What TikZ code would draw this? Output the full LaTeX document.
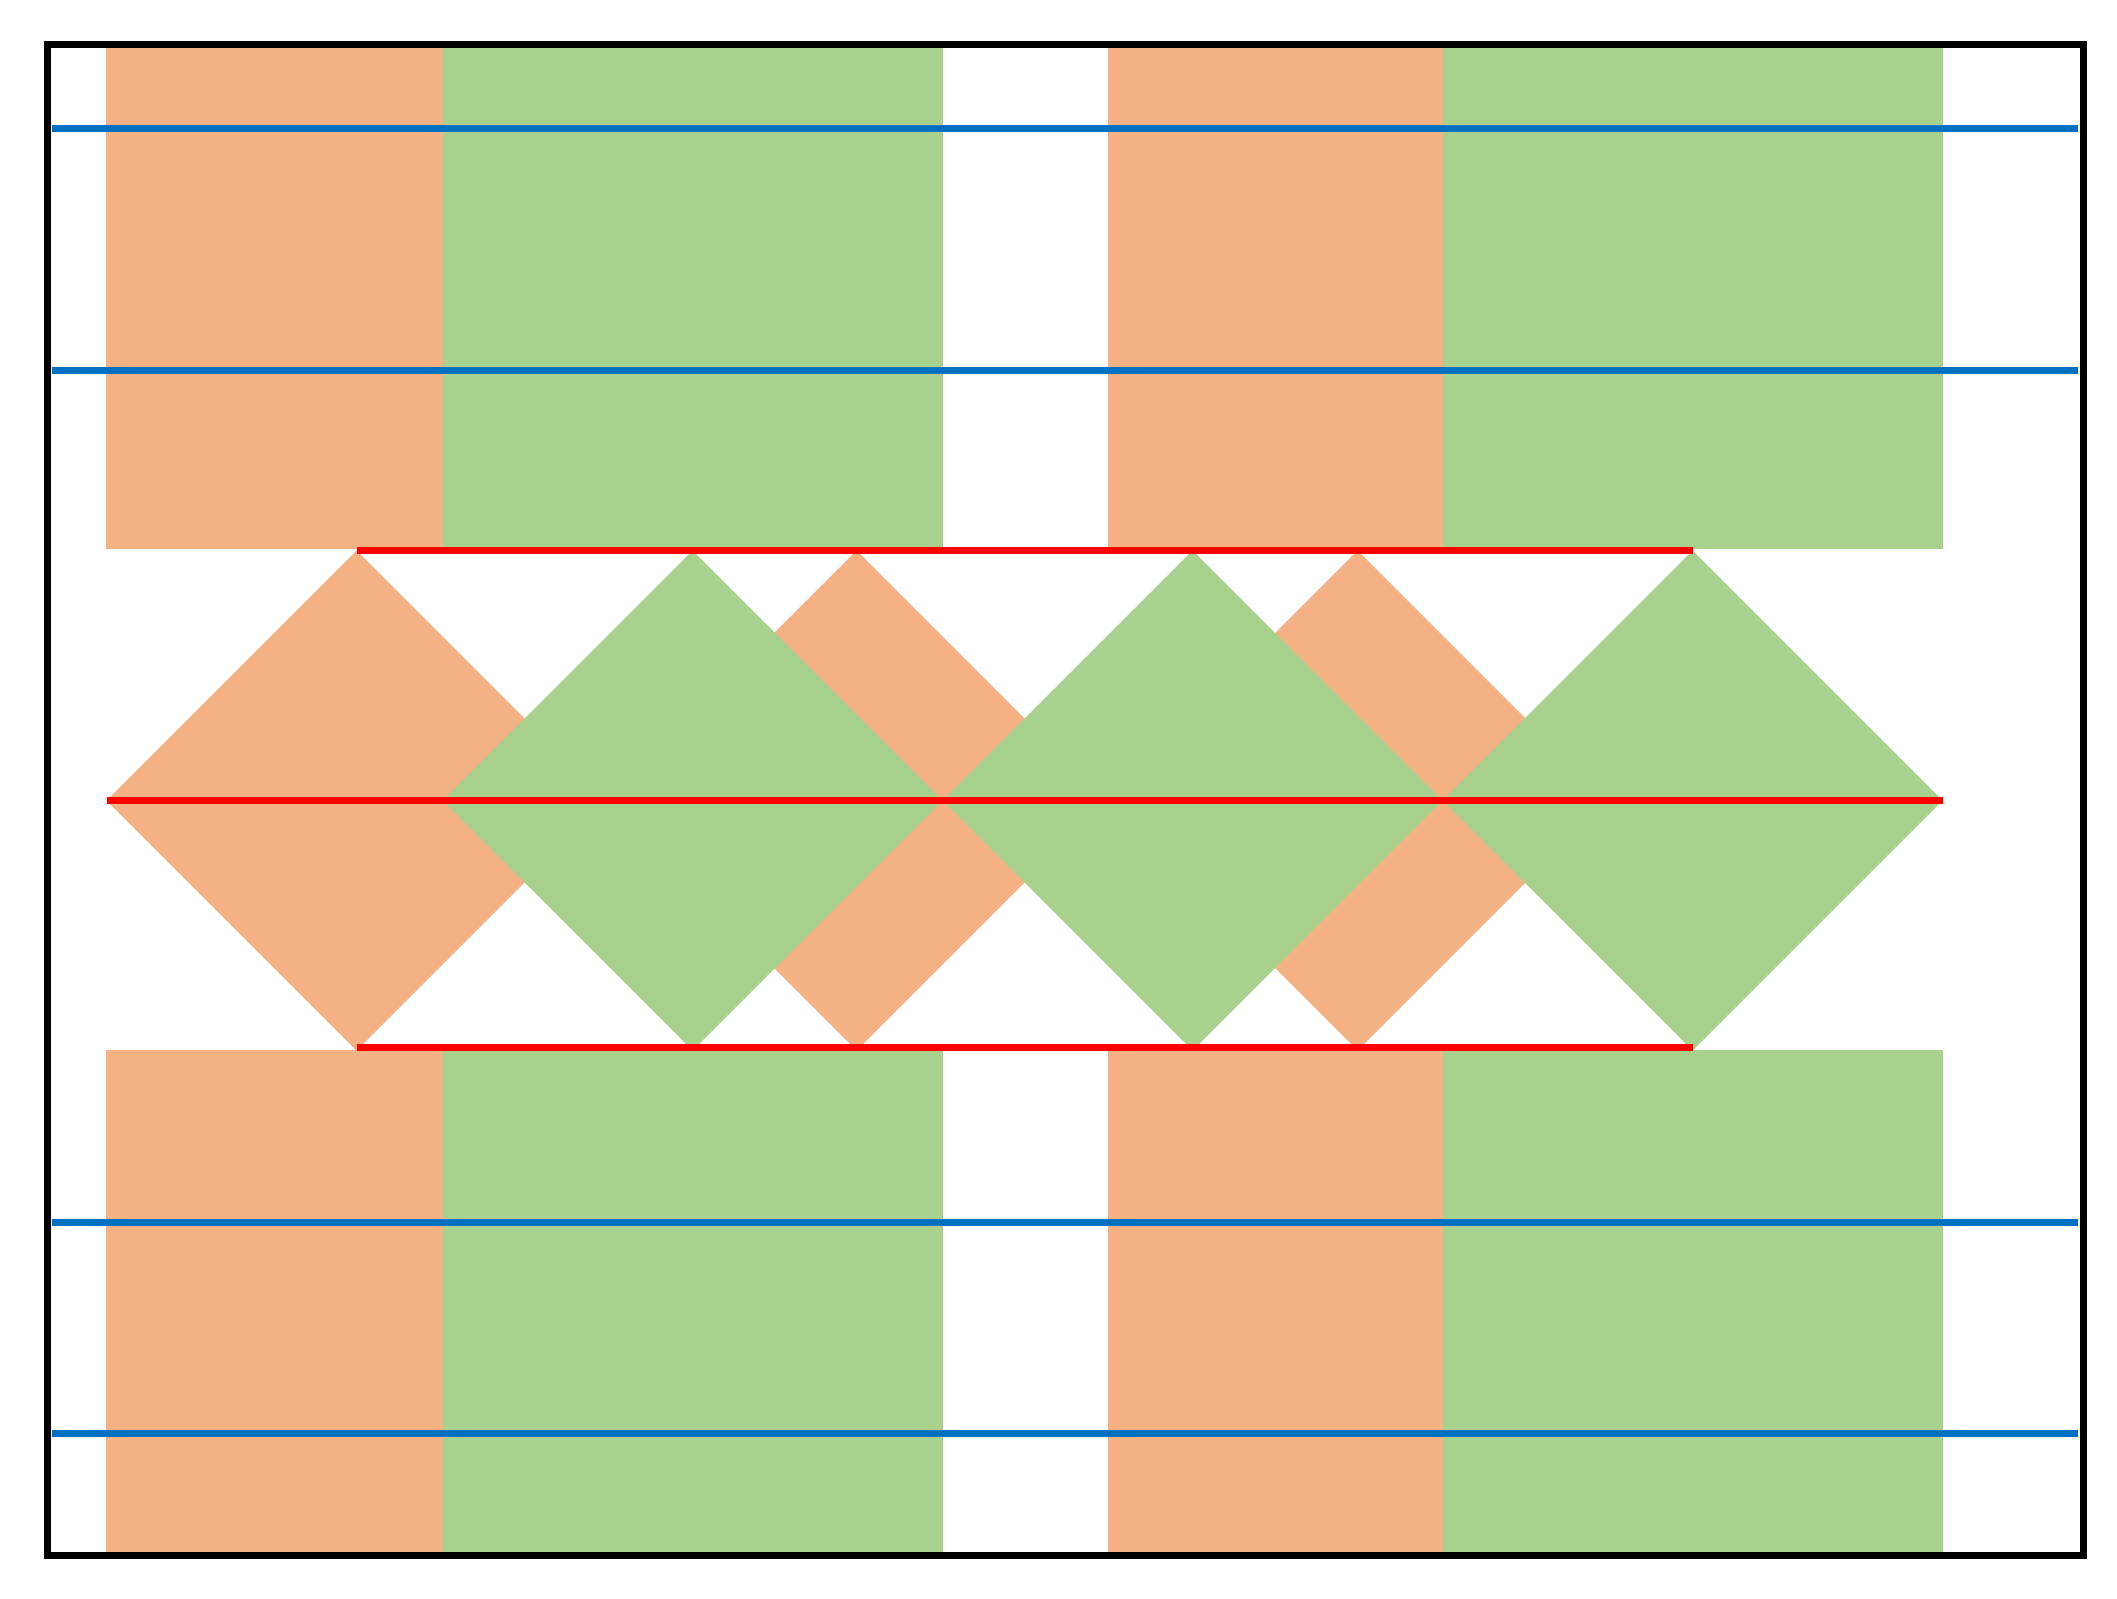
\documentclass[tikz,border=0pt]{standalone}
\definecolor{cam}{HTML}{F4B183}
\definecolor{luc}{HTML}{A9D18E}
\definecolor{lam}{HTML}{0070C0}
\begin{document}
\begin{tikzpicture}[lam/.style={draw=lam, line width=1.85pt}, do/.style={draw=red, line width=1.95pt}]
                \useasboundingbox (0,0) rectangle (21.17,15.98);
                \foreach \a/\b in {1.055/4.425, 11.075/14.425}{\fill[cam] (\a,10.49) rectangle (\b,15.5); \fill[cam] (\a,0.46) rectangle (\b,5.48);} % Hình chữ nhật cam
                \foreach \a/\b in {4.425/9.43, 14.425/19.43}{\fill[luc] (\a,10.49) rectangle (\b,15.5); \fill[luc] (\a,0.46) rectangle (\b,5.48);} % Hình chữ nhật lục
                \foreach \x in {3.565, 8.567, 13.575}{\fill[cam] (\x-2.5,7.975)--(\x,10.475)--(\x+2.5,7.975)--(\x,5.475)--cycle;} % Hình vuông cam
                \foreach \x in {6.925, 11.925, 16.925}{\fill[luc] (\x-2.5,7.975)--(\x,10.475)--(\x+2.5,7.975)--(\x,5.475)--cycle;} % Hình vuông lục
                \coordinate (T1) at (3.565,10.475); \coordinate (T2) at (16.925,10.475);
                \coordinate (G1) at (1.065,7.975); \coordinate (G2) at (19.425,7.975);
                \coordinate (D1) at (3.565,5.505); \coordinate (D2) at (16.925,5.505);
                \draw[do] (T1)--(T2); \draw[do] (G1)--(G2); \draw[do] (D1)--(D2);
                \foreach \y in {14.697, 12.277, 3.757, 1.647}{\draw[lam] (0.517,\y)--(20.777,\y);} % Đường xanh
                \draw[line width=2pt] (0.475,0.425) rectangle (20.83,15.535); % Khung
            \end{tikzpicture}
\end{document}
